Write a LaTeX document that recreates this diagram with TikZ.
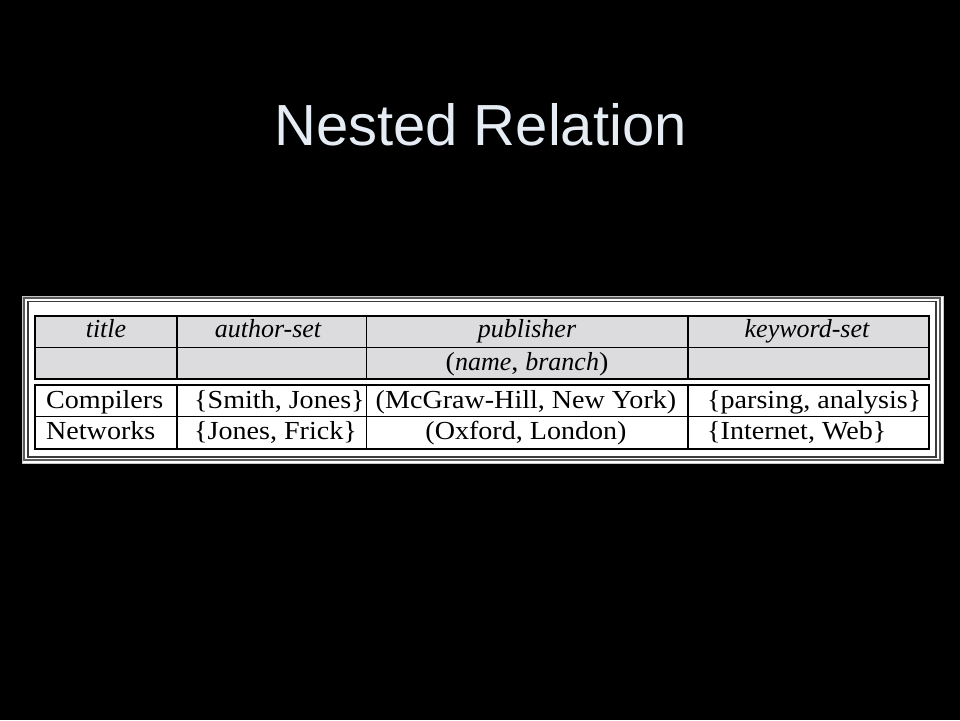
\documentclass[tikz,border=0pt]{standalone}
\usepackage{fontspec}
\setmainfont[FakeStretch=1.08, ItalicFeatures={FakeStretch=1.0}]{Liberation Serif}
\newfontfamily\titlefont{Liberation Sans}
\definecolor{titlecol}{HTML}{E6ECF3}
\definecolor{headfill}{HTML}{DCDBDE}
\definecolor{frameout}{HTML}{5A5A5A}
\definecolor{framein}{HTML}{3A3A3A}
\tikzset{
  celltext/.style={inner sep=0pt, anchor=base, font=\fontsize{26}{29}\selectfont},
  celltextl/.style={celltext, anchor=base west},
  grid/.style={black, line width=1.3pt},
}
\begin{document}
\begin{tikzpicture}[x=1pt,y=-1pt]
\fill[black] (0,0) rectangle (960,720);
\useasboundingbox (0,0) rectangle (960,720);
% title
\node[text=titlecol, inner sep=0pt, anchor=base, font=\titlefont\fontsize{58}{62}\selectfont] (title) at (480.5,145) {Nested Relation};
% frame
\fill[gray!45] (21.5,295.5) rectangle (943.5,463.5);
\fill[white] (22.5,296.5) rectangle (942.5,462.5);
\draw[frameout, line width=2pt] (24,297.5) rectangle (939.5,460);
\draw[framein, line width=1.2pt] (28,301.5) rectangle (936,457);
% header block
\fill[headfill] (35,316) rectangle (929,379);
\draw[grid] (35,316) rectangle (929,379);
\draw[grid] (35,347.5) -- (929,347.5);
\draw[grid] (177,316) -- (177,379);
\draw[grid] (366.5,316) -- (366.5,379);
\draw[grid] (688,316) -- (688,379);
% data block
\fill[white] (35,385) rectangle (929,449);
\draw[grid] (35,385) rectangle (929,449);
\draw[grid] (35,416.5) -- (929,416.5);
\draw[grid] (177,385) -- (177,449);
\draw[grid] (366.5,385) -- (366.5,449);
\draw[grid] (688,385) -- (688,449);
% header text
\node[celltext] (h1) at (106,337.5) {\itshape title};
\node[celltext] (h2) at (268,337.5) {\itshape author-set};
\node[celltext] (h3) at (527,337.5) {\itshape publisher};
\node[celltext] (h4) at (807,337.5) {\itshape keyword-set};
\node[celltext] (h3b) at (527,370) {({\itshape name}, {\itshape branch})};
% data rows
\node[celltextl] (r1c1) at (46,408) {Compilers};
\node[celltextl] (r1c2) at (194,408) {\{Smith, Jones\}};
\node[celltext] (r1c3) at (526,408) {(McGraw-Hill, New York)};
\node[celltextl] (r1c4) at (707,408) {\{parsing, analysis\}};
\node[celltextl] (r2c1) at (46,439.5) {Networks};
\node[celltextl] (r2c2) at (194,439.5) {\{Jones, Frick\}};
\node[celltext] (r2c3) at (526,439.5) {(Oxford, London)};
\node[celltextl] (r2c4) at (707,439.5) {\{Internet, Web\}};
\end{tikzpicture}
\end{document}
